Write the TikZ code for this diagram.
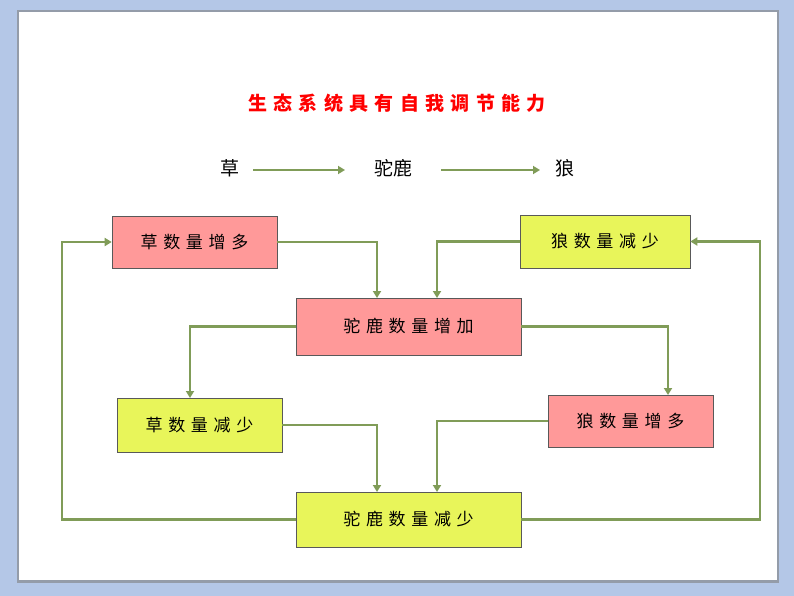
\documentclass[tikz,border=0pt]{standalone}
\usepackage{fontspec}
\newfontfamily\cjk{Noto Sans CJK SC}
\usetikzlibrary{arrows.meta}
\definecolor{bgblue}{HTML}{B4C7E7}
\definecolor{pinkf}{HTML}{FF9999}
\definecolor{yelf}{HTML}{E8F55A}
\definecolor{lgreen}{HTML}{809C58}
\tikzset{
  pbox/.style={draw=gray!70!black,fill=pinkf,line width=0.6pt,minimum height=#1,inner sep=0pt,font=\cjk\fontsize{17}{20}\selectfont},
  ybox/.style={draw=gray!70!black,fill=yelf,line width=0.6pt,minimum height=#1,inner sep=0pt,font=\cjk\fontsize{17}{20}\selectfont},
  conn/.style={draw=lgreen,line width=2.2pt,-{Triangle[length=7pt,width=8pt]}},
}
\begin{document}
\begin{tikzpicture}[x=1pt,y=-1pt]
\useasboundingbox (0,0) rectangle (794,596);
\fill[bgblue] (0,0) rectangle (794,596);
\fill[gray!60!bgblue] (17,10) rectangle (779,583);
\fill[white] (19,12) rectangle (777,580);
\node[text=red,font=\cjk\bfseries\fontsize{19}{22}\selectfont] (title) at (397,103) {生\,\,态\,\,系\,\,统\,\,具\,\,有\,\,自\,\,我\,\,调\,\,节\,\,能\,\,力};
\node[font=\cjk\fontsize{19}{22}\selectfont] (g) at (230,168) {草};
\node[font=\cjk\fontsize{19}{22}\selectfont] (m) at (393,168) {驼鹿};
\node[font=\cjk\fontsize{19}{22}\selectfont] (w) at (565,168) {狼};
\draw[conn] (253,170) -- (345,170);
\draw[conn] (441,170) -- (540,170);
\node[pbox=52pt,minimum width=165pt] (a) at (194.5,242) {草\,\,数\,\,量\,\,增\,\,多};
\node[ybox=53pt,minimum width=170pt] (b) at (605,241.5) {狼\,\,数\,\,量\,\,减\,\,少};
\node[pbox=57pt,minimum width=225pt] (c) at (408.5,326.5) {驼\,\,鹿\,\,数\,\,量\,\,增\,\,加};
\node[ybox=54pt,minimum width=165pt] (d) at (199.5,425) {草\,\,数\,\,量\,\,减\,\,少};
\node[pbox=52pt,minimum width=165pt] (e) at (630.5,421) {狼\,\,数\,\,量\,\,增\,\,多};
\node[ybox=55pt,minimum width=225pt] (f) at (408.5,519.5) {驼\,\,鹿\,\,数\,\,量\,\,减\,\,少};
\draw[conn] (a.east) -- (377,242) -- (377,298);
\draw[conn] (b.west) -- (437,241.5) -- (437,298);
\draw[conn] (c.west) -- (190,326.5) -- (190,398);
\draw[conn] (c.east) -- (668,326.5) -- (668,395);
\draw[conn] (d.east) -- (377,425) -- (377,492);
\draw[conn] (e.west) -- (437,421) -- (437,492);
\draw[conn] (f.west) -- (62,519.5) -- (62,242) -- (a.west);
\draw[conn] (f.east) -- (760,519.5) -- (760,241.5) -- (b.east);
\end{tikzpicture}
\end{document}
